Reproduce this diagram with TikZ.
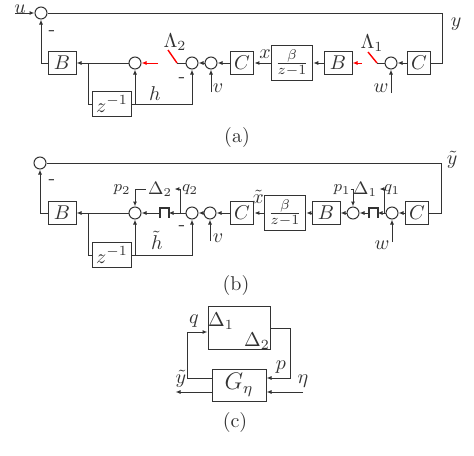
\documentclass[tikz,border=0pt]{standalone}
\usetikzlibrary{arrows.meta}
\begin{document}
\begin{tikzpicture}[x=0.5pt,y=-0.5pt,line width=0.5pt,color=black!80,
    every node/.style={inner sep=1pt},
    blk/.style={draw,fill=white,inner xsep=2pt,inner ysep=2pt,minimum height=11.5pt,minimum width=11.5pt},
    bblk/.style={blk,minimum width=14pt},
    fblk/.style={blk,minimum width=19.5pt,minimum height=17pt},
    sumnode/.style={draw,circle,fill=white,minimum size=6pt,inner sep=0pt},
    holdnode/.style={minimum width=4pt,minimum height=4.5pt,inner sep=0pt},
    arr/.style={-{Latex[length=2.5pt,width=2pt]}},
    sw/.style={red,line width=0.7pt},
    smalllbl/.style={font=\footnotesize}]
    \useasboundingbox (0,0) rectangle (474,455);

    % (a) block diagram
    \node[sumnode] (a-su) at (41,13) {};
    \node[bblk] (a-b) at (62,63) {$B$};
    \node[sumnode] (a-sh) at (135,63) {};
    \node[blk] (a-z) at (112,104) {$z^{-1}$};
    \node[sumnode] (a-s2) at (192,63) {};
    \node[sumnode] (a-sv) at (211,63) {};
    \node[blk] (a-c) at (242,63) {$C$};
    \node[fblk] (a-f) at (292,63) {$\frac{\beta}{z-1}$};
    \node[bblk] (a-b1) at (338,63) {$B$};
    \node[sumnode] (a-sw) at (391,63) {};
    \node[blk] (a-c1) at (419,63) {$C$};

    \coordinate (a-u) at (15,13);
    \coordinate (a-yc) at (442,13);
    \coordinate (a-j) at (88,63);
    \coordinate (a-r2) at (158,63);
    \coordinate (a-l2) at (168,50);
    \coordinate (a-p2) at (177,63);
    \coordinate (a-v) at (211,92);
    \coordinate (a-r1) at (362,63);
    \coordinate (a-l1) at (368,52);
    \coordinate (a-p1) at (377,63);
    \coordinate (a-w) at (391,93);

    \draw[arr] (a-u) -- (a-su);
    \draw (a-c1) -| (a-yc) -- (a-su);
    \draw[arr] (a-b) -| (a-su);
    \draw[arr] (a-sh) -- (a-b);
    \draw (a-j) |- (a-z);
    \draw[arr] (a-z) -| (a-s2);
    \draw[arr] (a-z -| a-sh) -- (a-sh);
    \draw[arr,red] (a-r2) -- (a-sh);
    \draw[sw] (a-l2) -- (a-p2);
    \draw (a-p2) -- (a-s2);
    \draw[arr] (a-sv) -- (a-s2);
    \draw[arr] (a-v) -- (a-sv);
    \draw[arr] (a-c) -- (a-sv);
    \draw[arr] (a-f) -- (a-c);
    \draw[arr] (a-b1) -- (a-f);
    \draw[arr,red] (a-r1) -- (a-b1);
    \draw[sw] (a-l1) -- (a-p1);
    \draw (a-p1) -- (a-sw);
    \draw[arr] (a-w) -- (a-sw);
    \draw[arr] (a-c1) -- (a-sw);

    \node (a-ul) at (20,9) {$u$};
    \node (a-yl) at (456,24) {$y$};
    \node (a-m1) at (52,33) {-};
    \node (a-hl) at (155,94) {$h$};
    \node (a-lam2) at (175,42) {$\Lambda_2$};
    \node (a-m2) at (182,80) {-};
    \node (a-vl) at (218,88) {$v$};
    \node (a-xl) at (265,54) {$x$};
    \node (a-lam1) at (372,43) {$\Lambda_1$};
    \node (a-wl) at (381,88) {$w$};
    \node (a-cap) at (237,137) {(a)};

    % (b) with uncertainty loops
    \node[sumnode] (b-su) at (40,163) {};
    \node[bblk] (b-b) at (62,213) {$B$};
    \node[sumnode] (b-sh) at (135,213) {};
    \node[blk] (b-z) at (112,255) {$z^{-1}$};
    \node[holdnode] (b-h2) at (164,213) {};
    \node[sumnode] (b-s2) at (192,213) {};
    \node[sumnode] (b-sv) at (210,213) {};
    \node[blk] (b-c) at (242,213) {$C$};
    \node[fblk] (b-f) at (285,213) {$\frac{\beta}{z-1}$};
    \node[bblk] (b-b1) at (326,213) {$B$};
    \node[sumnode] (b-sp) at (353,213) {};
    \node[holdnode] (b-h1) at (373,213) {};
    \node[sumnode] (b-sw) at (392,213) {};
    \node[blk] (b-c1) at (417,213) {$C$};
    \node[font=\small] (b-d2) at (160,189) {$\Delta_2$};
    \node[font=\small] (b-d1) at (365,189) {$\Delta_1$};

    \coordinate (b-yc) at (441,163);
    \coordinate (b-j) at (88,213);
    \coordinate (b-j2) at (180,213);
    \coordinate (b-j1) at (384,213);
    \coordinate (b-v) at (210,241);
    \coordinate (b-w) at (392,242);

    \foreach \n in {b-h1,b-h2}
        \draw[line width=1pt] (\n.south west) |- (\n.north east) -- (\n.south east);

    \draw (b-c1) -| (b-yc) -- (b-su);
    \draw[arr] (b-b) -| (b-su);
    \draw[arr] (b-sh) -- (b-b);
    \draw (b-j) |- (b-z);
    \draw[arr] (b-z) -| (b-s2);
    \draw[arr] (b-z -| b-sh) -- (b-sh);
    \draw[arr] (b-h2) -- (b-sh);
    \draw[arr] (b-s2) -- (b-h2);
    \draw[arr] (b-j2) |- (b-d2);
    \draw[arr] (b-d2) -| (b-sh);
    \draw[arr] (b-sv) -- (b-s2);
    \draw[arr] (b-v) -- (b-sv);
    \draw[arr] (b-c) -- (b-sv);
    \draw[arr] (b-f) -- (b-c);
    \draw[arr] (b-b1) -- (b-f);
    \draw[arr] (b-sp) -- (b-b1);
    \draw[arr] (b-h1) -- (b-sp);
    \draw[arr] (b-sw) -- (b-h1);
    \draw[arr] (b-j1) |- (b-d1);
    \draw[arr] (b-d1) -| (b-sp);
    \draw[arr] (b-w) -- (b-sw);
    \draw[arr] (b-c1) -- (b-sw);

    \node (b-m1) at (52,182) {-};
    \node[smalllbl] (b-p2l) at (122,190) {$p_2$};
    \node[smalllbl] (b-q2l) at (190,190) {$q_2$};
    \node (b-hl) at (157,240) {$\tilde h$};
    \node (b-m2) at (182,228) {-};
    \node (b-vl) at (218,238) {$v$};
    \node (b-xl) at (258,197) {$\tilde x$};
    \node[smalllbl] (b-p1l) at (342,190) {$p_1$};
    \node[smalllbl] (b-q1l) at (392,190) {$q_1$};
    \node (b-wl) at (382,245) {$w$};
    \node (b-yl) at (452,160) {$\tilde y$};
    \node (b-cap) at (236,285) {(b)};

    % (c) interconnection
    \node[blk,minimum width=31pt,minimum height=21.5pt] (c-d) at (239,328) {};
    \node (c-d1) at (221,321) {$\Delta_1$};
    \node (c-d2) at (257,341) {$\Delta_2$};
    \node[blk,minimum width=27pt,minimum height=16pt,font=\large] (c-g) at (239,385) {$G_\eta$};
    \coordinate (c-eta) at (303,392);

    \draw[arr] ([yshift=3.5pt]c-g.west) -- ++(-12pt,0) |- ([yshift=-2pt]c-d.west);
    \draw[arr] ([yshift=-3.5pt]c-g.west) -- ++(-18pt,0);
    \draw[arr] (c-d.east) -- ++(10pt,0) |- ([yshift=3.5pt]c-g.east);
    \draw[arr] (c-eta) -- ([yshift=-3.5pt]c-g.east);

    \node (c-ql) at (194,321) {$q$};
    \node (c-yl) at (181,379) {$\tilde y$};
    \node (c-pl) at (281,367) {$p$};
    \node (c-etal) at (303,381) {$\eta$};
    \node (c-cap) at (235,422) {(c)};
\end{tikzpicture}
\end{document}
